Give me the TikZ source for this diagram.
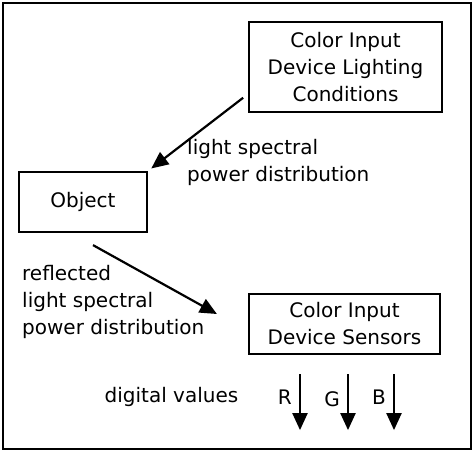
\documentclass[tikz,border=0pt]{standalone}
\usepackage{fontspec}
\setmainfont{DejaVu Sans}
\usepackage{tikz}
\usetikzlibrary{arrows.meta}

\begin{document}
\begin{tikzpicture}[x=1pt, y=-1pt,
    every node/.style={font=\fontsize{20}{27}\selectfont, inner sep=0pt},
    unitbox/.style={draw, line width=2.2pt, align=center},
    flow/.style={line width=2.2pt, -{Triangle[length=17pt, width=15pt]}}]
    % Frame
    \useasboundingbox (0,0) rectangle (474,452);
    \draw[line width=2.6pt] (3,3) rectangle (471,449);

    % Boxes
    \node[unitbox, minimum width=193pt, minimum height=90pt] (light) at (345.5,67) {Color Input\\Device Lighting\\Conditions};
    \node[unitbox, minimum width=128pt, minimum height=60pt] (obj) at (83,202) {Object};
    \node[unitbox, minimum width=191pt, minimum height=60pt] (sensors) at (344.5,324) {Color Input\\Device Sensors};

    % Light paths
    \draw[flow, shorten <=6pt, shorten >=4pt] ([yshift=19pt]light.south west) -- (obj.north east);
    \node[anchor=west, align=left] (lightlbl) at (187,162) {light spectral\\power distribution};
    \draw[flow] ([xshift=10pt, yshift=-12pt]obj.south) -- ([xshift=-31pt, yshift=10pt]sensors.west);
    \node[anchor=west, align=left] (refllbl) at (22,302) {reflected\\light spectral\\power distribution};

    % Sensor outputs
    \node (digital) at (171.5,397) {digital values};
    \foreach \ch/\dx/\dy in {R/-44.5/0, G/3.5/-2, B/49.5/0} {
        \coordinate (top\ch) at ([xshift=\dx pt, yshift=-19pt]sensors.south);
        \coordinate (bot\ch) at ([yshift=-56pt]top\ch);
        \draw[flow] (top\ch) -- (bot\ch);
        \node[anchor=east] (lbl\ch) at ([xshift=-8pt, yshift=-23pt+\dy pt]top\ch) {\ch};
    }
\end{tikzpicture}
\end{document}
